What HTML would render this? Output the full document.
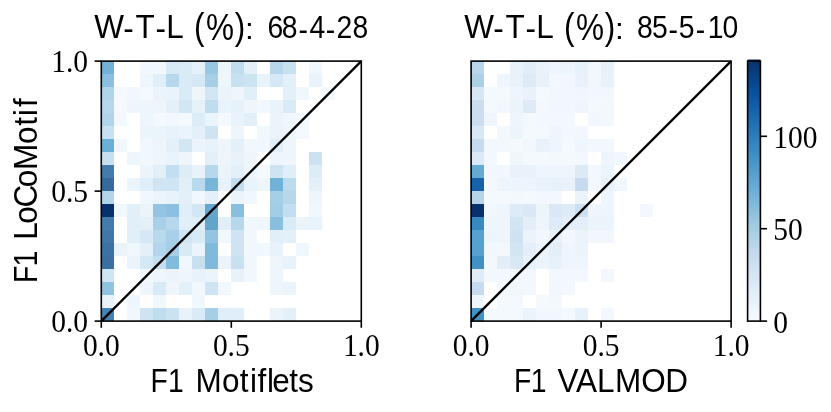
<!DOCTYPE html>
<html><head><meta charset="utf-8"><title>W-T-L</title>
<style>
html,body{margin:0;padding:0;background:#fff;}
body{width:831px;height:412px;overflow:hidden;}
svg{display:block;}
.s{font-family:"Liberation Sans",sans-serif;fill:#000;}
.r{font-family:"Liberation Serif",serif;fill:#000;}
</style></head><body>
<svg width="831" height="412" viewBox="0 0 831 412">
<defs><linearGradient id="cb" x1="0" y1="1" x2="0" y2="0"><stop offset="0" stop-color="#f7fbff"/><stop offset="0.125" stop-color="#deebf7"/><stop offset="0.25" stop-color="#c6dbef"/><stop offset="0.375" stop-color="#9ecae1"/><stop offset="0.5" stop-color="#6baed6"/><stop offset="0.625" stop-color="#4292c6"/><stop offset="0.75" stop-color="#2171b5"/><stop offset="0.875" stop-color="#08519c"/><stop offset="1" stop-color="#08306b"/></linearGradient></defs>
<rect x="0" y="0" width="831" height="412" fill="#fff"/>
<g shape-rendering="crispEdges">
<rect x="101.3" y="61.1" width="13" height="13" fill="#73b2d8"/><rect x="140.3" y="61.1" width="13" height="13" fill="#f1f8fd"/><rect x="153.3" y="61.1" width="13" height="13" fill="#f1f8fd"/><rect x="166.3" y="61.1" width="13" height="13" fill="#d7eaf6"/><rect x="179.3" y="61.1" width="13" height="13" fill="#d9ebf6"/><rect x="192.3" y="61.1" width="13" height="13" fill="#e5f1fa"/><rect x="205.3" y="61.1" width="13" height="13" fill="#98c7e3"/><rect x="218.3" y="61.1" width="13" height="13" fill="#edf6fc"/><rect x="231.3" y="61.1" width="13" height="13" fill="#c0ddef"/><rect x="244.3" y="61.1" width="13" height="13" fill="#e3f0f9"/><rect x="270.3" y="61.1" width="13" height="13" fill="#b6d7ec"/><rect x="283.3" y="61.1" width="13" height="13" fill="#c8e1f1"/><rect x="309.3" y="61.1" width="13" height="13" fill="#f1f8fd"/>
<rect x="101.3" y="74.1" width="13" height="13" fill="#8cc0e0"/><rect x="140.3" y="74.1" width="13" height="13" fill="#edf6fc"/><rect x="153.3" y="74.1" width="13" height="13" fill="#dfeef8"/><rect x="166.3" y="74.1" width="13" height="13" fill="#b6d7ec"/><rect x="179.3" y="74.1" width="13" height="13" fill="#d9ebf6"/><rect x="192.3" y="74.1" width="13" height="13" fill="#d5e8f5"/><rect x="205.3" y="74.1" width="13" height="13" fill="#a6cee7"/><rect x="218.3" y="74.1" width="13" height="13" fill="#eef6fc"/><rect x="231.3" y="74.1" width="13" height="13" fill="#c8e1f1"/><rect x="244.3" y="74.1" width="13" height="13" fill="#cce3f2"/><rect x="257.3" y="74.1" width="13" height="13" fill="#e9f3fb"/><rect x="270.3" y="74.1" width="13" height="13" fill="#d5e8f5"/><rect x="283.3" y="74.1" width="13" height="13" fill="#e3f0f9"/><rect x="309.3" y="74.1" width="13" height="13" fill="#e9f3fb"/>
<rect x="101.3" y="87.1" width="13" height="13" fill="#b0d4ea"/><rect x="114.3" y="87.1" width="13" height="13" fill="#f3f9fe"/><rect x="127.3" y="87.1" width="13" height="13" fill="#f1f8fd"/><rect x="140.3" y="87.1" width="13" height="13" fill="#f3f9fe"/><rect x="153.3" y="87.1" width="13" height="13" fill="#ebf4fb"/><rect x="166.3" y="87.1" width="13" height="13" fill="#e9f3fb"/><rect x="179.3" y="87.1" width="13" height="13" fill="#d9ebf6"/><rect x="192.3" y="87.1" width="13" height="13" fill="#eef6fc"/><rect x="205.3" y="87.1" width="13" height="13" fill="#d2e6f4"/><rect x="218.3" y="87.1" width="13" height="13" fill="#ebf4fb"/><rect x="231.3" y="87.1" width="13" height="13" fill="#eef6fc"/><rect x="244.3" y="87.1" width="13" height="13" fill="#e1eff9"/><rect x="283.3" y="87.1" width="13" height="13" fill="#e3f0f9"/><rect x="296.3" y="87.1" width="13" height="13" fill="#f1f8fd"/><rect x="322.3" y="87.1" width="13" height="13" fill="#f4f9fe"/>
<rect x="101.3" y="100.1" width="13" height="13" fill="#b6d7ec"/><rect x="114.3" y="100.1" width="13" height="13" fill="#f3f9fe"/><rect x="127.3" y="100.1" width="13" height="13" fill="#edf6fc"/><rect x="140.3" y="100.1" width="13" height="13" fill="#eef6fc"/><rect x="153.3" y="100.1" width="13" height="13" fill="#eef6fc"/><rect x="166.3" y="100.1" width="13" height="13" fill="#e3f0f9"/><rect x="179.3" y="100.1" width="13" height="13" fill="#d2e6f4"/><rect x="192.3" y="100.1" width="13" height="13" fill="#e6f2fa"/><rect x="205.3" y="100.1" width="13" height="13" fill="#c0ddef"/><rect x="218.3" y="100.1" width="13" height="13" fill="#e9f3fb"/><rect x="231.3" y="100.1" width="13" height="13" fill="#e6f2fa"/><rect x="244.3" y="100.1" width="13" height="13" fill="#eef6fc"/><rect x="257.3" y="100.1" width="13" height="13" fill="#f1f8fd"/><rect x="270.3" y="100.1" width="13" height="13" fill="#e9f3fb"/><rect x="283.3" y="100.1" width="13" height="13" fill="#d9ebf6"/>
<rect x="101.3" y="113.1" width="13" height="13" fill="#b3d5eb"/><rect x="114.3" y="113.1" width="13" height="13" fill="#f3f9fe"/><rect x="140.3" y="113.1" width="13" height="13" fill="#edf6fc"/><rect x="153.3" y="113.1" width="13" height="13" fill="#f3f9fe"/><rect x="166.3" y="113.1" width="13" height="13" fill="#f1f8fd"/><rect x="179.3" y="113.1" width="13" height="13" fill="#f4f9fe"/><rect x="192.3" y="113.1" width="13" height="13" fill="#ddedf7"/><rect x="205.3" y="113.1" width="13" height="13" fill="#ebf4fb"/><rect x="218.3" y="113.1" width="13" height="13" fill="#f3f9fe"/><rect x="231.3" y="113.1" width="13" height="13" fill="#e9f3fb"/><rect x="244.3" y="113.1" width="13" height="13" fill="#e1eff9"/><rect x="270.3" y="113.1" width="13" height="13" fill="#ebf4fb"/><rect x="283.3" y="113.1" width="13" height="13" fill="#f1f8fd"/><rect x="296.3" y="113.1" width="13" height="13" fill="#f3f9fe"/>
<rect x="101.3" y="126.1" width="13" height="13" fill="#c8e1f1"/><rect x="140.3" y="126.1" width="13" height="13" fill="#ebf4fb"/><rect x="153.3" y="126.1" width="13" height="13" fill="#eaf4fb"/><rect x="166.3" y="126.1" width="13" height="13" fill="#e7f2fa"/><rect x="179.3" y="126.1" width="13" height="13" fill="#ebf4fb"/><rect x="192.3" y="126.1" width="13" height="13" fill="#e3f0f9"/><rect x="205.3" y="126.1" width="13" height="13" fill="#cee4f3"/><rect x="231.3" y="126.1" width="13" height="13" fill="#eef6fc"/><rect x="257.3" y="126.1" width="13" height="13" fill="#f1f8fd"/><rect x="270.3" y="126.1" width="13" height="13" fill="#ebf4fb"/><rect x="283.3" y="126.1" width="13" height="13" fill="#eef6fc"/><rect x="296.3" y="126.1" width="13" height="13" fill="#f3f9fe"/>
<rect x="101.3" y="139.1" width="13" height="13" fill="#6baed6"/><rect x="114.3" y="139.1" width="13" height="13" fill="#f1f8fd"/><rect x="140.3" y="139.1" width="13" height="13" fill="#f1f8fd"/><rect x="153.3" y="139.1" width="13" height="13" fill="#eef6fc"/><rect x="166.3" y="139.1" width="13" height="13" fill="#e3f0f9"/><rect x="179.3" y="139.1" width="13" height="13" fill="#d2e6f4"/><rect x="192.3" y="139.1" width="13" height="13" fill="#ebf4fb"/><rect x="205.3" y="139.1" width="13" height="13" fill="#e7f2fa"/><rect x="218.3" y="139.1" width="13" height="13" fill="#eef6fc"/><rect x="231.3" y="139.1" width="13" height="13" fill="#e3f0f9"/><rect x="244.3" y="139.1" width="13" height="13" fill="#f1f8fd"/><rect x="257.3" y="139.1" width="13" height="13" fill="#f1f8fd"/><rect x="270.3" y="139.1" width="13" height="13" fill="#dfeef8"/><rect x="283.3" y="139.1" width="13" height="13" fill="#eef6fc"/>
<rect x="101.3" y="152.1" width="13" height="13" fill="#c6e0f1"/><rect x="127.3" y="152.1" width="13" height="13" fill="#edf6fc"/><rect x="140.3" y="152.1" width="13" height="13" fill="#f1f8fd"/><rect x="153.3" y="152.1" width="13" height="13" fill="#eef6fc"/><rect x="166.3" y="152.1" width="13" height="13" fill="#e9f3fb"/><rect x="179.3" y="152.1" width="13" height="13" fill="#eef6fc"/><rect x="205.3" y="152.1" width="13" height="13" fill="#e3f0f9"/><rect x="218.3" y="152.1" width="13" height="13" fill="#eef6fc"/><rect x="231.3" y="152.1" width="13" height="13" fill="#e7f2fa"/><rect x="244.3" y="152.1" width="13" height="13" fill="#eef6fc"/><rect x="270.3" y="152.1" width="13" height="13" fill="#eef6fc"/><rect x="283.3" y="152.1" width="13" height="13" fill="#eef6fc"/><rect x="309.3" y="152.1" width="13" height="13" fill="#cae2f2"/>
<rect x="101.3" y="165.1" width="13" height="13" fill="#437cab"/><rect x="140.3" y="165.1" width="13" height="13" fill="#ebf4fb"/><rect x="153.3" y="165.1" width="13" height="13" fill="#e1eff9"/><rect x="166.3" y="165.1" width="13" height="13" fill="#c3def0"/><rect x="179.3" y="165.1" width="13" height="13" fill="#ddedf7"/><rect x="192.3" y="165.1" width="13" height="13" fill="#e7f2fa"/><rect x="205.3" y="165.1" width="13" height="13" fill="#b6d7ec"/><rect x="218.3" y="165.1" width="13" height="13" fill="#ebf4fb"/><rect x="231.3" y="165.1" width="13" height="13" fill="#e3f0f9"/><rect x="244.3" y="165.1" width="13" height="13" fill="#eef6fc"/><rect x="257.3" y="165.1" width="13" height="13" fill="#f3f9fe"/><rect x="270.3" y="165.1" width="13" height="13" fill="#cee4f3"/><rect x="283.3" y="165.1" width="13" height="13" fill="#dfeef8"/><rect x="309.3" y="165.1" width="13" height="13" fill="#ddedf7"/>
<rect x="101.3" y="178.1" width="13" height="13" fill="#366a9c"/><rect x="127.3" y="178.1" width="13" height="13" fill="#ebf4fb"/><rect x="140.3" y="178.1" width="13" height="13" fill="#dfeef8"/><rect x="153.3" y="178.1" width="13" height="13" fill="#d0e5f3"/><rect x="166.3" y="178.1" width="13" height="13" fill="#cfe5f3"/><rect x="179.3" y="178.1" width="13" height="13" fill="#e1eff9"/><rect x="192.3" y="178.1" width="13" height="13" fill="#b9d9ed"/><rect x="205.3" y="178.1" width="13" height="13" fill="#77b5da"/><rect x="218.3" y="178.1" width="13" height="13" fill="#e7f2fa"/><rect x="231.3" y="178.1" width="13" height="13" fill="#c3def0"/><rect x="244.3" y="178.1" width="13" height="13" fill="#e9f3fb"/><rect x="257.3" y="178.1" width="13" height="13" fill="#eef6fc"/><rect x="270.3" y="178.1" width="13" height="13" fill="#73b2d8"/><rect x="283.3" y="178.1" width="13" height="13" fill="#bcdbee"/><rect x="309.3" y="178.1" width="13" height="13" fill="#e3f0f9"/>
<rect x="101.3" y="191.1" width="13" height="13" fill="#b3d5eb"/><rect x="140.3" y="191.1" width="13" height="13" fill="#f1f8fd"/><rect x="153.3" y="191.1" width="13" height="13" fill="#ebf4fb"/><rect x="166.3" y="191.1" width="13" height="13" fill="#e7f2fa"/><rect x="179.3" y="191.1" width="13" height="13" fill="#e3f0f9"/><rect x="192.3" y="191.1" width="13" height="13" fill="#f1f8fd"/><rect x="205.3" y="191.1" width="13" height="13" fill="#e3f0f9"/><rect x="231.3" y="191.1" width="13" height="13" fill="#ebf4fb"/><rect x="244.3" y="191.1" width="13" height="13" fill="#f1f8fd"/><rect x="270.3" y="191.1" width="13" height="13" fill="#a6cee7"/><rect x="283.3" y="191.1" width="13" height="13" fill="#b6d7ec"/><rect x="309.3" y="191.1" width="13" height="13" fill="#eef6fc"/>
<rect x="101.3" y="204.1" width="13" height="13" fill="#08306b"/><rect x="114.3" y="204.1" width="13" height="13" fill="#f1f8fd"/><rect x="127.3" y="204.1" width="13" height="13" fill="#e1eff9"/><rect x="140.3" y="204.1" width="13" height="13" fill="#ebf4fb"/><rect x="153.3" y="204.1" width="13" height="13" fill="#94c4e2"/><rect x="166.3" y="204.1" width="13" height="13" fill="#8cc0e0"/><rect x="179.3" y="204.1" width="13" height="13" fill="#dfeef8"/><rect x="192.3" y="204.1" width="13" height="13" fill="#d2e6f4"/><rect x="205.3" y="204.1" width="13" height="13" fill="#65a6d0"/><rect x="231.3" y="204.1" width="13" height="13" fill="#88bede"/><rect x="270.3" y="204.1" width="13" height="13" fill="#a3cde6"/><rect x="283.3" y="204.1" width="13" height="13" fill="#c3def0"/><rect x="309.3" y="204.1" width="13" height="13" fill="#f1f8fd"/>
<rect x="101.3" y="217.1" width="13" height="13" fill="#437cab"/><rect x="127.3" y="217.1" width="13" height="13" fill="#e1eff9"/><rect x="140.3" y="217.1" width="13" height="13" fill="#e3f0f9"/><rect x="153.3" y="217.1" width="13" height="13" fill="#a9d0e8"/><rect x="166.3" y="217.1" width="13" height="13" fill="#b6d7ec"/><rect x="179.3" y="217.1" width="13" height="13" fill="#e1eff9"/><rect x="192.3" y="217.1" width="13" height="13" fill="#dfeef8"/><rect x="205.3" y="217.1" width="13" height="13" fill="#63a4cd"/><rect x="218.3" y="217.1" width="13" height="13" fill="#e1eff9"/><rect x="231.3" y="217.1" width="13" height="13" fill="#b6d7ec"/><rect x="244.3" y="217.1" width="13" height="13" fill="#f1f8fd"/><rect x="257.3" y="217.1" width="13" height="13" fill="#eff7fd"/><rect x="270.3" y="217.1" width="13" height="13" fill="#88bede"/><rect x="283.3" y="217.1" width="13" height="13" fill="#d9ebf6"/><rect x="296.3" y="217.1" width="13" height="13" fill="#ebf4fb"/><rect x="309.3" y="217.1" width="13" height="13" fill="#e9f3fb"/>
<rect x="101.3" y="230.1" width="13" height="13" fill="#3f77a7"/><rect x="127.3" y="230.1" width="13" height="13" fill="#e1eff9"/><rect x="140.3" y="230.1" width="13" height="13" fill="#d5e8f5"/><rect x="153.3" y="230.1" width="13" height="13" fill="#b9d9ed"/><rect x="166.3" y="230.1" width="13" height="13" fill="#a9d0e8"/><rect x="179.3" y="230.1" width="13" height="13" fill="#cfe5f3"/><rect x="192.3" y="230.1" width="13" height="13" fill="#d7eaf6"/><rect x="205.3" y="230.1" width="13" height="13" fill="#94c4e2"/><rect x="218.3" y="230.1" width="13" height="13" fill="#f1f8fd"/><rect x="231.3" y="230.1" width="13" height="13" fill="#cee4f3"/><rect x="244.3" y="230.1" width="13" height="13" fill="#f1f8fd"/><rect x="270.3" y="230.1" width="13" height="13" fill="#e1eff9"/><rect x="283.3" y="230.1" width="13" height="13" fill="#e3f0f9"/>
<rect x="101.3" y="243.1" width="13" height="13" fill="#3b72a3"/><rect x="114.3" y="243.1" width="13" height="13" fill="#ebf4fb"/><rect x="127.3" y="243.1" width="13" height="13" fill="#f1f8fd"/><rect x="140.3" y="243.1" width="13" height="13" fill="#e3f0f9"/><rect x="153.3" y="243.1" width="13" height="13" fill="#b3d5eb"/><rect x="166.3" y="243.1" width="13" height="13" fill="#a6cee7"/><rect x="179.3" y="243.1" width="13" height="13" fill="#d7eaf6"/><rect x="192.3" y="243.1" width="13" height="13" fill="#ebf4fb"/><rect x="205.3" y="243.1" width="13" height="13" fill="#7fb9dc"/><rect x="231.3" y="243.1" width="13" height="13" fill="#cee4f3"/><rect x="244.3" y="243.1" width="13" height="13" fill="#f1f8fd"/><rect x="257.3" y="243.1" width="13" height="13" fill="#f1f8fd"/><rect x="270.3" y="243.1" width="13" height="13" fill="#e7f2fa"/><rect x="296.3" y="243.1" width="13" height="13" fill="#f1f8fd"/>
<rect x="101.3" y="256.1" width="13" height="13" fill="#3a6fa0"/><rect x="127.3" y="256.1" width="13" height="13" fill="#ebf4fb"/><rect x="140.3" y="256.1" width="13" height="13" fill="#d5e8f5"/><rect x="153.3" y="256.1" width="13" height="13" fill="#c3def0"/><rect x="166.3" y="256.1" width="13" height="13" fill="#83bbdd"/><rect x="179.3" y="256.1" width="13" height="13" fill="#f1f8fd"/><rect x="192.3" y="256.1" width="13" height="13" fill="#c8e1f1"/><rect x="205.3" y="256.1" width="13" height="13" fill="#7fb9dc"/><rect x="218.3" y="256.1" width="13" height="13" fill="#ebf4fb"/><rect x="231.3" y="256.1" width="13" height="13" fill="#c8e1f1"/><rect x="244.3" y="256.1" width="13" height="13" fill="#f1f8fd"/><rect x="270.3" y="256.1" width="13" height="13" fill="#eef6fc"/><rect x="283.3" y="256.1" width="13" height="13" fill="#e7f2fa"/>
<rect x="101.3" y="269.1" width="13" height="13" fill="#cfe5f3"/><rect x="140.3" y="269.1" width="13" height="13" fill="#f1f8fd"/><rect x="153.3" y="269.1" width="13" height="13" fill="#eef6fc"/><rect x="166.3" y="269.1" width="13" height="13" fill="#ebf4fb"/><rect x="179.3" y="269.1" width="13" height="13" fill="#eef6fc"/><rect x="192.3" y="269.1" width="13" height="13" fill="#e7f2fa"/><rect x="205.3" y="269.1" width="13" height="13" fill="#ebf4fb"/><rect x="231.3" y="269.1" width="13" height="13" fill="#e7f2fa"/><rect x="244.3" y="269.1" width="13" height="13" fill="#f1f8fd"/><rect x="270.3" y="269.1" width="13" height="13" fill="#eef6fc"/>
<rect x="101.3" y="282.1" width="13" height="13" fill="#90c2e1"/><rect x="140.3" y="282.1" width="13" height="13" fill="#eef6fc"/><rect x="153.3" y="282.1" width="13" height="13" fill="#d7eaf6"/><rect x="166.3" y="282.1" width="13" height="13" fill="#eef6fc"/><rect x="179.3" y="282.1" width="13" height="13" fill="#e3f0f9"/><rect x="192.3" y="282.1" width="13" height="13" fill="#f1f8fd"/><rect x="205.3" y="282.1" width="13" height="13" fill="#cee4f3"/><rect x="218.3" y="282.1" width="13" height="13" fill="#f1f8fd"/><rect x="270.3" y="282.1" width="13" height="13" fill="#eef6fc"/><rect x="283.3" y="282.1" width="13" height="13" fill="#ebf4fb"/>
<rect x="101.3" y="295.1" width="13" height="13" fill="#e7f2fa"/><rect x="127.3" y="295.1" width="13" height="13" fill="#eef6fc"/><rect x="153.3" y="295.1" width="13" height="13" fill="#f1f8fd"/><rect x="192.3" y="295.1" width="13" height="13" fill="#f1f8fd"/>
<rect x="101.3" y="308.1" width="13" height="13" fill="#4781af"/><rect x="127.3" y="308.1" width="13" height="13" fill="#f1f8fd"/><rect x="140.3" y="308.1" width="13" height="13" fill="#cee4f3"/><rect x="153.3" y="308.1" width="13" height="13" fill="#c0ddef"/><rect x="166.3" y="308.1" width="13" height="13" fill="#cae2f2"/><rect x="179.3" y="308.1" width="13" height="13" fill="#e7f2fa"/><rect x="192.3" y="308.1" width="13" height="13" fill="#d9ebf6"/><rect x="205.3" y="308.1" width="13" height="13" fill="#a6cee7"/><rect x="218.3" y="308.1" width="13" height="13" fill="#dfeef8"/><rect x="231.3" y="308.1" width="13" height="13" fill="#dfeef8"/><rect x="270.3" y="308.1" width="13" height="13" fill="#ebf4fb"/><rect x="283.3" y="308.1" width="13" height="13" fill="#e3f0f9"/>
</g>
<g shape-rendering="crispEdges">
<rect x="471.1" y="61.1" width="13" height="13" fill="#b9d6eb"/><rect x="510.1" y="61.1" width="13" height="13" fill="#e9f2fb"/><rect x="523.1" y="61.1" width="13" height="13" fill="#e1edf8"/><rect x="536.1" y="61.1" width="13" height="13" fill="#e9f2fb"/><rect x="549.1" y="61.1" width="13" height="13" fill="#eef5fc"/><rect x="562.1" y="61.1" width="13" height="13" fill="#edf5fc"/><rect x="575.1" y="61.1" width="13" height="13" fill="#e7f1fa"/><rect x="588.1" y="61.1" width="13" height="13" fill="#f1f7fd"/><rect x="601.1" y="61.1" width="13" height="13" fill="#e7f1fa"/>
<rect x="471.1" y="74.1" width="13" height="13" fill="#acd0e6"/><rect x="497.1" y="74.1" width="13" height="13" fill="#eef5fc"/><rect x="510.1" y="74.1" width="13" height="13" fill="#e9f2fb"/><rect x="523.1" y="74.1" width="13" height="13" fill="#deebf7"/><rect x="536.1" y="74.1" width="13" height="13" fill="#e9f2fb"/><rect x="549.1" y="74.1" width="13" height="13" fill="#f2f8fd"/><rect x="562.1" y="74.1" width="13" height="13" fill="#f1f7fd"/><rect x="575.1" y="74.1" width="13" height="13" fill="#e9f2fb"/><rect x="588.1" y="74.1" width="13" height="13" fill="#f1f7fd"/><rect x="601.1" y="74.1" width="13" height="13" fill="#e9f2fb"/>
<rect x="471.1" y="87.1" width="13" height="13" fill="#d6e6f4"/><rect x="484.1" y="87.1" width="13" height="13" fill="#f4f9fe"/><rect x="497.1" y="87.1" width="13" height="13" fill="#f4f9fe"/><rect x="510.1" y="87.1" width="13" height="13" fill="#eef5fc"/><rect x="523.1" y="87.1" width="13" height="13" fill="#e9f2fb"/><rect x="536.1" y="87.1" width="13" height="13" fill="#f4f9fe"/><rect x="549.1" y="87.1" width="13" height="13" fill="#f1f7fd"/><rect x="562.1" y="87.1" width="13" height="13" fill="#f1f7fd"/><rect x="575.1" y="87.1" width="13" height="13" fill="#eff6fc"/><rect x="588.1" y="87.1" width="13" height="13" fill="#f1f7fd"/><rect x="601.1" y="87.1" width="13" height="13" fill="#f1f7fd"/>
<rect x="471.1" y="100.1" width="13" height="13" fill="#cadef0"/><rect x="484.1" y="100.1" width="13" height="13" fill="#f4f9fe"/><rect x="497.1" y="100.1" width="13" height="13" fill="#f1f7fd"/><rect x="510.1" y="100.1" width="13" height="13" fill="#ebf3fb"/><rect x="523.1" y="100.1" width="13" height="13" fill="#deebf7"/><rect x="536.1" y="100.1" width="13" height="13" fill="#f2f8fd"/><rect x="549.1" y="100.1" width="13" height="13" fill="#f1f7fd"/><rect x="562.1" y="100.1" width="13" height="13" fill="#f1f7fd"/><rect x="575.1" y="100.1" width="13" height="13" fill="#eef5fc"/><rect x="588.1" y="100.1" width="13" height="13" fill="#f4f9fe"/><rect x="601.1" y="100.1" width="13" height="13" fill="#f2f8fd"/>
<rect x="471.1" y="113.1" width="13" height="13" fill="#cadef0"/><rect x="484.1" y="113.1" width="13" height="13" fill="#eef5fc"/><rect x="510.1" y="113.1" width="13" height="13" fill="#eef5fc"/><rect x="523.1" y="113.1" width="13" height="13" fill="#f4f9fe"/><rect x="536.1" y="113.1" width="13" height="13" fill="#f2f8fd"/><rect x="549.1" y="113.1" width="13" height="13" fill="#f2f8fd"/><rect x="562.1" y="113.1" width="13" height="13" fill="#f2f8fd"/><rect x="588.1" y="113.1" width="13" height="13" fill="#f1f7fd"/><rect x="601.1" y="113.1" width="13" height="13" fill="#f2f8fd"/>
<rect x="471.1" y="126.1" width="13" height="13" fill="#d9e8f5"/><rect x="497.1" y="126.1" width="13" height="13" fill="#f2f8fd"/><rect x="510.1" y="126.1" width="13" height="13" fill="#edf5fc"/><rect x="523.1" y="126.1" width="13" height="13" fill="#f4f9fe"/><rect x="536.1" y="126.1" width="13" height="13" fill="#f4f9fe"/><rect x="549.1" y="126.1" width="13" height="13" fill="#eef5fc"/><rect x="562.1" y="126.1" width="13" height="13" fill="#f2f8fd"/><rect x="575.1" y="126.1" width="13" height="13" fill="#f1f7fd"/>
<rect x="471.1" y="139.1" width="13" height="13" fill="#c6dbef"/><rect x="484.1" y="139.1" width="13" height="13" fill="#f2f8fd"/><rect x="497.1" y="139.1" width="13" height="13" fill="#f2f8fd"/><rect x="510.1" y="139.1" width="13" height="13" fill="#f4f9fe"/><rect x="523.1" y="139.1" width="13" height="13" fill="#f1f7fd"/><rect x="536.1" y="139.1" width="13" height="13" fill="#e9f2fb"/><rect x="549.1" y="139.1" width="13" height="13" fill="#eef5fc"/><rect x="562.1" y="139.1" width="13" height="13" fill="#f4f9fe"/><rect x="575.1" y="139.1" width="13" height="13" fill="#eef5fc"/><rect x="588.1" y="139.1" width="13" height="13" fill="#f2f8fd"/><rect x="601.1" y="139.1" width="13" height="13" fill="#f2f8fd"/>
<rect x="471.1" y="152.1" width="13" height="13" fill="#dbe9f6"/><rect x="484.1" y="152.1" width="13" height="13" fill="#f2f8fd"/><rect x="510.1" y="152.1" width="13" height="13" fill="#eff6fc"/><rect x="523.1" y="152.1" width="13" height="13" fill="#f4f9fe"/><rect x="536.1" y="152.1" width="13" height="13" fill="#f4f9fe"/><rect x="549.1" y="152.1" width="13" height="13" fill="#f2f8fd"/><rect x="562.1" y="152.1" width="13" height="13" fill="#f4f9fe"/><rect x="575.1" y="152.1" width="13" height="13" fill="#f2f8fd"/><rect x="601.1" y="152.1" width="13" height="13" fill="#eef5fc"/><rect x="614.1" y="152.1" width="13" height="13" fill="#f1f7fd"/>
<rect x="471.1" y="165.1" width="13" height="13" fill="#64aad3"/><rect x="484.1" y="165.1" width="13" height="13" fill="#f1f7fd"/><rect x="497.1" y="165.1" width="13" height="13" fill="#f1f7fd"/><rect x="510.1" y="165.1" width="13" height="13" fill="#e9f2fb"/><rect x="523.1" y="165.1" width="13" height="13" fill="#e9f2fb"/><rect x="536.1" y="165.1" width="13" height="13" fill="#eef5fc"/><rect x="549.1" y="165.1" width="13" height="13" fill="#eef5fc"/><rect x="562.1" y="165.1" width="13" height="13" fill="#eef5fc"/><rect x="575.1" y="165.1" width="13" height="13" fill="#dceaf6"/><rect x="588.1" y="165.1" width="13" height="13" fill="#f2f8fd"/><rect x="601.1" y="165.1" width="13" height="13" fill="#ebf3fb"/>
<rect x="471.1" y="178.1" width="13" height="13" fill="#1562a9"/><rect x="484.1" y="178.1" width="13" height="13" fill="#f2f8fd"/><rect x="497.1" y="178.1" width="13" height="13" fill="#edf5fc"/><rect x="510.1" y="178.1" width="13" height="13" fill="#eef5fc"/><rect x="523.1" y="178.1" width="13" height="13" fill="#edf5fc"/><rect x="536.1" y="178.1" width="13" height="13" fill="#e9f2fb"/><rect x="549.1" y="178.1" width="13" height="13" fill="#e7f1fa"/><rect x="562.1" y="178.1" width="13" height="13" fill="#e9f2fb"/><rect x="575.1" y="178.1" width="13" height="13" fill="#c6dbef"/><rect x="588.1" y="178.1" width="13" height="13" fill="#f2f8fd"/><rect x="601.1" y="178.1" width="13" height="13" fill="#e9f2fb"/><rect x="614.1" y="178.1" width="13" height="13" fill="#f1f7fd"/>
<rect x="471.1" y="191.1" width="13" height="13" fill="#b6d4e9"/><rect x="484.1" y="191.1" width="13" height="13" fill="#f4f9fe"/><rect x="497.1" y="191.1" width="13" height="13" fill="#f4f9fe"/><rect x="510.1" y="191.1" width="13" height="13" fill="#f2f8fd"/><rect x="523.1" y="191.1" width="13" height="13" fill="#f4f9fe"/><rect x="536.1" y="191.1" width="13" height="13" fill="#f2f8fd"/><rect x="549.1" y="191.1" width="13" height="13" fill="#f2f8fd"/><rect x="575.1" y="191.1" width="13" height="13" fill="#ebf3fb"/><rect x="601.1" y="191.1" width="13" height="13" fill="#eef5fc"/>
<rect x="471.1" y="204.1" width="13" height="13" fill="#08306b"/><rect x="484.1" y="204.1" width="13" height="13" fill="#f1f7fd"/><rect x="497.1" y="204.1" width="13" height="13" fill="#eef5fc"/><rect x="510.1" y="204.1" width="13" height="13" fill="#ddeaf7"/><rect x="523.1" y="204.1" width="13" height="13" fill="#dae8f6"/><rect x="536.1" y="204.1" width="13" height="13" fill="#edf5fc"/><rect x="549.1" y="204.1" width="13" height="13" fill="#dae8f6"/><rect x="562.1" y="204.1" width="13" height="13" fill="#ddeaf7"/><rect x="575.1" y="204.1" width="13" height="13" fill="#ccdff1"/><rect x="588.1" y="204.1" width="13" height="13" fill="#eef5fc"/><rect x="601.1" y="204.1" width="13" height="13" fill="#eef5fc"/><rect x="640.1" y="204.1" width="13" height="13" fill="#f2f8fd"/>
<rect x="471.1" y="217.1" width="13" height="13" fill="#3989c1"/><rect x="484.1" y="217.1" width="13" height="13" fill="#eef5fc"/><rect x="497.1" y="217.1" width="13" height="13" fill="#eef5fc"/><rect x="510.1" y="217.1" width="13" height="13" fill="#d3e4f3"/><rect x="523.1" y="217.1" width="13" height="13" fill="#e3eef9"/><rect x="536.1" y="217.1" width="13" height="13" fill="#eef5fc"/><rect x="549.1" y="217.1" width="13" height="13" fill="#ddeaf7"/><rect x="562.1" y="217.1" width="13" height="13" fill="#e3eef9"/><rect x="575.1" y="217.1" width="13" height="13" fill="#e3eef9"/><rect x="588.1" y="217.1" width="13" height="13" fill="#ebf3fb"/><rect x="601.1" y="217.1" width="13" height="13" fill="#ebf3fb"/>
<rect x="471.1" y="230.1" width="13" height="13" fill="#57a1ce"/><rect x="484.1" y="230.1" width="13" height="13" fill="#edf5fc"/><rect x="497.1" y="230.1" width="13" height="13" fill="#eef5fc"/><rect x="510.1" y="230.1" width="13" height="13" fill="#d0e1f2"/><rect x="523.1" y="230.1" width="13" height="13" fill="#ebf3fb"/><rect x="536.1" y="230.1" width="13" height="13" fill="#f1f7fd"/><rect x="549.1" y="230.1" width="13" height="13" fill="#e7f1fa"/><rect x="562.1" y="230.1" width="13" height="13" fill="#f2f8fd"/><rect x="575.1" y="230.1" width="13" height="13" fill="#ebf3fb"/><rect x="588.1" y="230.1" width="13" height="13" fill="#f1f7fd"/><rect x="601.1" y="230.1" width="13" height="13" fill="#f1f7fd"/>
<rect x="471.1" y="243.1" width="13" height="13" fill="#57a1ce"/><rect x="484.1" y="243.1" width="13" height="13" fill="#f1f7fd"/><rect x="497.1" y="243.1" width="13" height="13" fill="#f2f8fd"/><rect x="510.1" y="243.1" width="13" height="13" fill="#d3e4f3"/><rect x="523.1" y="243.1" width="13" height="13" fill="#e3eef9"/><rect x="536.1" y="243.1" width="13" height="13" fill="#ebf3fb"/><rect x="549.1" y="243.1" width="13" height="13" fill="#e3eef9"/><rect x="562.1" y="243.1" width="13" height="13" fill="#eef5fc"/><rect x="575.1" y="243.1" width="13" height="13" fill="#ebf3fb"/>
<rect x="471.1" y="256.1" width="13" height="13" fill="#4191c5"/><rect x="484.1" y="256.1" width="13" height="13" fill="#f2f8fd"/><rect x="497.1" y="256.1" width="13" height="13" fill="#e3eef9"/><rect x="510.1" y="256.1" width="13" height="13" fill="#dae8f6"/><rect x="523.1" y="256.1" width="13" height="13" fill="#e7f1fa"/><rect x="536.1" y="256.1" width="13" height="13" fill="#ebf3fb"/><rect x="549.1" y="256.1" width="13" height="13" fill="#e7f1fa"/><rect x="562.1" y="256.1" width="13" height="13" fill="#eef5fc"/><rect x="575.1" y="256.1" width="13" height="13" fill="#eef5fc"/>
<rect x="471.1" y="269.1" width="13" height="13" fill="#dfecf7"/><rect x="484.1" y="269.1" width="13" height="13" fill="#f2f8fd"/><rect x="497.1" y="269.1" width="13" height="13" fill="#f2f8fd"/><rect x="510.1" y="269.1" width="13" height="13" fill="#f2f8fd"/><rect x="523.1" y="269.1" width="13" height="13" fill="#f2f8fd"/><rect x="549.1" y="269.1" width="13" height="13" fill="#f2f8fd"/><rect x="562.1" y="269.1" width="13" height="13" fill="#f2f8fd"/><rect x="575.1" y="269.1" width="13" height="13" fill="#f2f8fd"/><rect x="601.1" y="269.1" width="13" height="13" fill="#f2f8fd"/>
<rect x="471.1" y="282.1" width="13" height="13" fill="#c6dbef"/><rect x="497.1" y="282.1" width="13" height="13" fill="#f2f8fd"/><rect x="510.1" y="282.1" width="13" height="13" fill="#f1f7fd"/><rect x="523.1" y="282.1" width="13" height="13" fill="#f2f8fd"/><rect x="549.1" y="282.1" width="13" height="13" fill="#f1f7fd"/><rect x="562.1" y="282.1" width="13" height="13" fill="#f2f8fd"/>
<rect x="471.1" y="295.1" width="13" height="13" fill="#eef5fc"/><rect x="497.1" y="295.1" width="13" height="13" fill="#f4f9fe"/><rect x="510.1" y="295.1" width="13" height="13" fill="#f4f9fe"/><rect x="536.1" y="295.1" width="13" height="13" fill="#f4f9fe"/><rect x="549.1" y="295.1" width="13" height="13" fill="#f2f8fd"/>
<rect x="471.1" y="308.1" width="13" height="13" fill="#4191c5"/><rect x="484.1" y="308.1" width="13" height="13" fill="#f4f9fe"/><rect x="497.1" y="308.1" width="13" height="13" fill="#f4f9fe"/><rect x="510.1" y="308.1" width="13" height="13" fill="#f4f9fe"/><rect x="523.1" y="308.1" width="13" height="13" fill="#ebf3fb"/><rect x="536.1" y="308.1" width="13" height="13" fill="#f1f7fd"/><rect x="549.1" y="308.1" width="13" height="13" fill="#f1f7fd"/><rect x="562.1" y="308.1" width="13" height="13" fill="#f4f9fe"/><rect x="575.1" y="308.1" width="13" height="13" fill="#e7f1fa"/><rect x="601.1" y="308.1" width="13" height="13" fill="#f2f8fd"/>
</g>
<line x1="101.3" y1="321.1" x2="361.3" y2="61.1" stroke="#000" stroke-width="2.3" stroke-linecap="butt"/>
<rect x="101.3" y="61.1" width="260" height="260" fill="none" stroke="#000" stroke-width="1.6"/>
<line x1="101.3" y1="321.1" x2="101.3" y2="327.8" stroke="#000" stroke-width="1.6"/><line x1="94.6" y1="321.1" x2="101.3" y2="321.1" stroke="#000" stroke-width="1.6"/><line x1="231.3" y1="321.1" x2="231.3" y2="327.8" stroke="#000" stroke-width="1.6"/><line x1="94.6" y1="191.1" x2="101.3" y2="191.1" stroke="#000" stroke-width="1.6"/><line x1="361.3" y1="321.1" x2="361.3" y2="327.8" stroke="#000" stroke-width="1.6"/><line x1="94.6" y1="61.1" x2="101.3" y2="61.1" stroke="#000" stroke-width="1.6"/>
<line x1="471.1" y1="321.1" x2="731.1" y2="61.1" stroke="#000" stroke-width="2.3" stroke-linecap="butt"/>
<rect x="471.1" y="61.1" width="260" height="260" fill="none" stroke="#000" stroke-width="1.6"/>
<line x1="471.1" y1="321.1" x2="471.1" y2="327.8" stroke="#000" stroke-width="1.6"/><line x1="601.1" y1="321.1" x2="601.1" y2="327.8" stroke="#000" stroke-width="1.6"/><line x1="731.1" y1="321.1" x2="731.1" y2="327.8" stroke="#000" stroke-width="1.6"/>
<rect x="747.6" y="59.5" width="12.8" height="261.6" fill="url(#cb)"/>
<rect x="747.6" y="61.1" width="12.8" height="260" fill="none" stroke="#000" stroke-width="1.6"/>
<line x1="760.4" y1="321.1" x2="767.1" y2="321.1" stroke="#000" stroke-width="1.6"/><line x1="760.4" y1="228.705" x2="767.1" y2="228.705" stroke="#000" stroke-width="1.6"/><line x1="760.4" y1="136.31" x2="767.1" y2="136.31" stroke="#000" stroke-width="1.6"/>
<text class="s" transform="translate(0,38.4) scale(1,1.04)" font-size="31.5" x="94.33 123.35 135.56 155.51 166.22" y="0 1.92 0 1.92 0">W-T-L</text>
<text class="s" transform="translate(0,38.4) scale(1,1.17)" font-size="31.5" x="193.98 205.98 234.83" y="0.85 1.37 0.85">(%)</text>
<text class="s" transform="translate(0,39.2) scale(1,0.92)" font-size="31.5" x="245.13" y="0">:</text>
<text class="s" transform="translate(0,38.4) scale(1,1.1111)" font-size="28.35" x="267.45 281.7 298.62 309.5 325.78 336.53 352.51" y="0 0 1.8 0 1.8 0 0">68-4-28</text>
<text class="s" transform="translate(0,38.4) scale(1,1.04)" font-size="31.5" x="464.33 493.35 505.59 525.51 536.22" y="0 1.92 0 1.92 0">W-T-L</text>
<text class="s" transform="translate(0,38.4) scale(1,1.17)" font-size="31.5" x="563.98 575.98 604.83" y="0.85 1.37 0.85">(%)</text>
<text class="s" transform="translate(0,39.2) scale(1,0.92)" font-size="31.5" x="615.13" y="0">:</text>
<text class="s" transform="translate(0,38.4) scale(1,1.1111)" font-size="28.35" x="637.07 651.93 668.39 678.7 695.78 707.68 722.5" y="0 0 1.8 0 1.8 0 0">85-5-10</text>
<text class="s" transform="translate(0,391.8) scale(1,1.1556)" font-size="28.35" x="150.57 168.01" y="0 0">F1</text>
<text class="s" transform="translate(0,391.8) scale(1,1.04)" font-size="31.5" x="195.56 221.93 239.86 249.91 257.58 266.93 272.22 289.22 298.11" y="0 0 0 0 0 0 0 0 0">Motiflets</text>
<text class="s" transform="translate(0,391.8) scale(1,1.1556)" font-size="28.35" x="514.06 530.65" y="0 0">F1</text>
<text class="s" transform="translate(0,391.8) scale(1,1.04)" font-size="31.5" x="557.59 575.9 596.93 614.96 641.36 665.33" y="0 0 0 0 0 0">VALMOD</text>
<text class="s" transform="translate(36.9,400) rotate(-90) scale(1,1.1556)" font-size="28.35" x="117.01 133.55" y="0 0">F1</text>
<text class="s" transform="translate(36.9,400) rotate(-90) scale(1,1.04)" font-size="31.5" x="160.18 176.33 192.48 212.86 230 256.01 274.29 283.98 292.9" y="0 0 0 0 0 0 0 0 0">LoCoMotif</text>
<text class="r" transform="translate(88,332.2) scale(1,1.04)" font-size="29.5" text-anchor="end">0.0</text><text class="r" transform="translate(101.3,355.7) scale(1,1.04)" font-size="29.5" text-anchor="middle">0.0</text><text class="r" transform="translate(471.1,355.7) scale(1,1.04)" font-size="29.5" text-anchor="middle">0.0</text><text class="r" transform="translate(88,202.2) scale(1,1.04)" font-size="29.5" text-anchor="end">0.5</text><text class="r" transform="translate(231.3,355.7) scale(1,1.04)" font-size="29.5" text-anchor="middle">0.5</text><text class="r" transform="translate(601.1,355.7) scale(1,1.04)" font-size="29.5" text-anchor="middle">0.5</text><text class="r" transform="translate(88,72.2) scale(1,1.04)" font-size="29.5" text-anchor="end">1.0</text><text class="r" transform="translate(361.3,355.7) scale(1,1.04)" font-size="29.5" text-anchor="middle">1.0</text><text class="r" transform="translate(731.1,355.7) scale(1,1.04)" font-size="29.5" text-anchor="middle">1.0</text>
<text class="r" transform="translate(773.2,332.8) scale(1,1.04)" font-size="29.5" text-anchor="start">0</text><text class="r" transform="translate(773.2,240.405) scale(1,1.04)" font-size="29.5" text-anchor="start">50</text><text class="r" transform="translate(773.2,148.01) scale(1,1.04)" font-size="29.5" text-anchor="start">100</text>
</svg>
</body></html>
